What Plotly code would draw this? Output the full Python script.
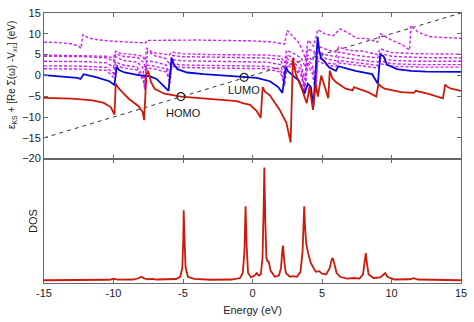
import plotly.graph_objects as go
from plotly.subplots import make_subplots

# ---- Data ----
diag_x = [-15, 15]
diag_y = [-15, 15]

red_x = [-15, -13, -11.5, -10.7, -10.2, -9.93, -9.84, -9.65, -9.4, -8.9, -8.2, -7.9, -7.80, -7.63, -7.51, -7.3, -7.04, -6.6, -6.33, -5.15, -3.48, -2.06, -1.12, -0.64, -0.17, 0.31, 0.59, 0.73, 0.9, 1.25, 1.96, 2.44, 2.74, 2.91, 3.1, 3.5, 3.9, 4.1, 4.35, 4.55, 4.7, 4.95, 5.45, 5.56, 5.75, 6.0, 6.7, 7.2, 7.3, 8.3, 8.9, 9.07, 9.25, 9.5, 10.7, 11.6, 11.75, 12.6, 13.7, 13.86, 14.05, 14.3, 15]
red_y = [-5.4, -5.6, -6.0, -6.6, -7.6, -9.4, -2.0, -3.0, -3.9, -5.6, -7.4, -8.8, -10.75, 0.2, 1.1, -1.6, -3.2, -4.0, -4.4, -5.1, -5.5, -5.9, -6.2, -6.7, -7.1, -8.6, -10.2, -2.8, -3.9, -4.8, -8.3, -11.4, -16.1, 4.2, 0.5, -2.8, -6.7, -2.8, -8.3, -2.0, -5.1, 0.0, -5.5, 1.1, -0.7, -1.6, -3.2, -3.6, -2.8, -4.0, -5.1, -2.0, -2.7, -3.2, -4.0, -4.2, -3.7, -4.4, -5.5, -2.2, -2.8, -3.2, -3.7]

blue_x = [-15, -13.2, -12.6, -12.37, -12.15, -11.2, -10.3, -9.93, -9.77, -9.6, -9.2, -8.2, -7.4, -6.9, -6.4, -6.04, -5.81, -5.65, -5.4, -4.7, -3.5, -2.06, -0.64, 0.3, 1.25, 1.85, 2.15, 2.39, 2.55, 2.8, 3.35, 3.74, 3.98, 4.2, 4.38, 4.69, 4.8, 4.93, 5.17, 5.52, 6.0, 6.18, 6.47, 7.4, 8.6, 9.02, 9.19, 9.43, 9.67, 10.4, 11.4, 12.5, 15]
blue_y = [0.07, -0.3, -0.6, -0.86, 0.3, -0.5, -1.4, -2.3, 2.1, 1.3, 0.7, 0.07, -0.2, -0.86, -2.4, -3.7, 4.2, 2.6, 1.5, 0.7, 0.3, 0.0, -0.3, -0.6, -1.4, -2.8, -4.2, 2.0, 1.0, 0.3, -1.3, -4.4, -2.0, -2.8, -7.5, 9.25, 6.0, 4.2, 3.4, 1.9, 1.1, 2.2, 1.9, 1.1, 0.3, -2.0, 5.0, 4.6, 2.6, 1.5, 1.1, 0.9, 0.85]

m1_x = [-15, -14, -13, -12.5, -12.35, -12.2, -11.8, -11, -10, -9, -8, -7.7, -7.6, -6, -4, -2, 0, 1.5, 2.3, 2.5, 2.9, 3.3, 3.6, 3.8, 4.0, 4.4, 4.7, 5.2, 5.8, 6.3, 7.0, 7.5, 8.2, 9.0, 9.2, 10.0, 10.8, 11.3, 11.4, 11.9, 12.8, 14, 15]
m1_y = [8.0, 7.9, 7.6, 7.0, 6.5, 9.8, 9.0, 8.5, 8.2, 8.1, 8.0, 7.8, 8.4, 8.5, 8.5, 8.4, 8.3, 8.0, 7.5, 10.8, 9.5, 8.0, 6.0, 4.0, 8.5, 7.0, 11.0, 10.0, 9.5, 11.2, 10.0, 8.9, 8.9, 8.0, 10.0, 8.5, 7.3, 6.1, 12.0, 10.4, 9.3, 9.0, 8.9]

m2_x = [-15, -12, -10.5, -10, -9.85, -9.5, -8.5, -7.9, -7.75, -7.6, -7.2, -6.5, -6.0, -5.8, -5, -3, -1, 1, 2, 2.3, 2.45, 2.9, 3.5, 3.8, 4.0, 4.4, 4.7, 5.5, 6.0, 6.2, 7, 8, 9.0, 9.2, 10, 12, 15]
m2_y = [4.9, 4.8, 4.6, 4.2, 5.8, 5.3, 5.0, 4.6, 3.6, 6.5, 5.5, 5.2, 4.9, 5.6, 5.2, 5.0, 5.0, 4.9, 4.6, 3.0, 6.0, 5.4, 4.2, 2.0, 6.5, 5.5, 7.0, 6.0, 5.6, 6.8, 6.0, 5.8, 5.0, 6.4, 5.5, 5.2, 5.1]

m3_x = [-15, -12, -10.5, -10.0, -9.85, -9.3, -8.2, -7.8, -7.7, -7.55, -7.0, -6.2, -5.95, -5.8, -5, -2, 1, 2.0, 2.3, 2.5, 3.0, 3.5, 3.75, 3.95, 4.3, 4.6, 5.2, 6.0, 6.2, 7.5, 9.0, 9.2, 10, 12, 15]
m3_y = [4.6, 4.5, 4.2, 3.4, 5.2, 4.6, 4.2, 3.0, 1.0, 5.8, 4.7, 4.0, 2.5, 4.8, 4.5, 4.4, 4.2, 3.8, 1.5, 5.0, 4.0, 2.5, -1.0, 5.0, 3.5, 6.0, 5.0, 4.5, 5.6, 4.8, 4.2, 5.3, 4.6, 4.3, 4.2]

m4_x = [-15, -12, -10.5, -10.0, -9.85, -9.3, -8.3, -7.9, -7.75, -7.6, -7.0, -6.2, -5.95, -5.8, -5, -2, 1, 2.0, 2.3, 2.5, 3.0, 3.5, 3.75, 3.95, 4.3, 4.55, 4.7, 5.3, 6.0, 6.2, 7.5, 9.0, 9.2, 10, 12, 15]
m4_y = [3.4, 3.3, 3.0, 2.0, 4.5, 3.6, 3.2, 2.0, -1.5, 3.5, 3.2, 2.5, 0.0, 3.8, 3.5, 3.4, 3.2, 2.6, 0.0, 4.0, 3.0, 1.5, -3.0, 4.0, 2.5, -1.0, 5.5, 4.0, 3.5, 4.5, 3.8, 3.2, 4.3, 3.6, 3.4, 3.4]

m5_x = [-15, -12, -10.5, -10.0, -9.85, -9.3, -8.3, -7.9, -7.75, -7.6, -7.0, -6.2, -5.95, -5.8, -5, -2, 1, 2.0, 2.3, 2.5, 3.0, 3.5, 3.75, 3.95, 4.3, 4.55, 4.7, 5.3, 6.0, 6.2, 7.5, 9.0, 9.2, 10, 12, 15]
m5_y = [2.3, 2.2, 1.9, 0.5, 3.2, 2.5, 2.0, 0.0, -3.5, 2.5, 2.2, 1.5, -2.0, 2.8, 2.5, 2.4, 2.2, 1.5, -1.5, 3.2, 2.2, 0.5, -4.0, 3.2, 1.5, -3.0, 4.5, 3.0, 2.7, 3.6, 3.0, 2.4, 3.5, 2.8, 2.6, 2.6]

m6_x = [-15, -12, -10.5, -10.0, -9.85, -9.3, -8.3, -7.9, -7.75, -7.6, -7.0, -6.2, -5.95, -5.8, -5, -2, 1, 2.0, 2.3, 2.5, 3.0, 3.5, 3.75, 3.95, 4.3, 4.55, 4.7, 5.3, 6.0, 6.2, 7.5, 9.0, 9.2, 10, 12, 15]
m6_y = [1.6, 1.5, 1.2, -0.5, 2.5, 1.8, 1.3, -1.0, -2.5, 1.8, 1.5, 0.8, -1.0, 2.2, 1.9, 1.8, 1.6, 0.8, -2.5, 2.5, 1.5, 0.0, -3.5, 2.5, 0.5, -4.0, 3.5, 2.5, 2.1, 3.0, 2.4, 1.8, 2.8, 2.2, 2.0, 2.0]

homo_x, homo_y = [-5.15], [-5.1]
lumo_x, lumo_y = [-0.6], [-0.45]

dos_x = [-15, -12, -10.3, -10.0, -9.7, -8.6, -8.2, -8.0, -7.8, -7.5, -7.2, -6.9, -6.0, -5.5, -5.2, -5.05, -4.98, -4.95, -4.9, -4.82, -4.65, -4.2, -3, -1.5, -0.9, -0.7, -0.58, -0.5, -0.42, -0.32, -0.1, 0.15, 0.3, 0.45, 0.6, 0.72, 0.8, 0.85, 0.92, 1.0, 1.1, 1.15, 1.3, 1.6, 1.9, 2.05, 2.15, 2.2, 2.28, 2.4, 2.7, 2.9, 3.2, 3.45, 3.6, 3.68, 3.72, 3.78, 3.86, 4.0, 4.2, 4.4, 4.55, 4.8, 5.0, 5.3, 5.55, 5.7, 5.78, 5.9, 6.05, 6.3, 6.8, 7.3, 7.7, 7.95, 8.08, 8.15, 8.22, 8.35, 8.7, 9.2, 9.45, 9.55, 9.7, 10.2, 11.3, 11.6, 11.9, 13, 15]
dos_y = [0.022, 0.023, 0.026, 0.034, 0.027, 0.028, 0.038, 0.05, 0.037, 0.03, 0.033, 0.028, 0.028, 0.032, 0.05, 0.12, 0.35, 0.584, 0.40, 0.13, 0.05, 0.033, 0.026, 0.028, 0.04, 0.08, 0.25, 0.617, 0.3, 0.08, 0.045, 0.06, 0.08, 0.06, 0.07, 0.2, 0.6, 0.928, 0.5, 0.2, 0.17, 0.18, 0.1, 0.05, 0.06, 0.12, 0.27, 0.30, 0.18, 0.08, 0.05, 0.055, 0.05, 0.09, 0.25, 0.55, 0.617, 0.45, 0.32, 0.24, 0.16, 0.12, 0.09, 0.095, 0.075, 0.07, 0.12, 0.19, 0.20, 0.15, 0.08, 0.05, 0.035, 0.04, 0.035, 0.07, 0.18, 0.24, 0.17, 0.07, 0.04, 0.045, 0.07, 0.08, 0.05, 0.028, 0.03, 0.039, 0.028, 0.024, 0.022]

x_ticks = [-15, -10, -5, 0, 5, 10, 15]
y_ticks = [-20, -15, -10, -5, 0, 5, 10, 15]

RED = "#cc1a0a"
BLUE = "#0a0ad8"
MAG = "#cc22ee"
FRAME = "#666666"
FONT = "Liberation Sans, Arial, sans-serif"

fig = make_subplots(rows=2, cols=1, shared_xaxes=False, vertical_spacing=0,
                    row_heights=[0.5393, 0.4607])

fig.add_trace(go.Scatter(x=diag_x, y=diag_y, mode="lines",
                         line=dict(color="#333333", width=1, dash="4px,4px")), row=1, col=1)
for mx, my in [(m1_x, m1_y), (m2_x, m2_y), (m3_x, m3_y), (m4_x, m4_y), (m5_x, m5_y), (m6_x, m6_y)]:
    fig.add_trace(go.Scatter(x=mx, y=my, mode="lines",
                             line=dict(color=MAG, width=1.4, dash="3px,2px")), row=1, col=1)
fig.add_trace(go.Scatter(x=blue_x, y=blue_y, mode="lines",
                         line=dict(color=BLUE, width=1.8)), row=1, col=1)
fig.add_trace(go.Scatter(x=red_x, y=red_y, mode="lines",
                         line=dict(color=RED, width=1.8)), row=1, col=1)
fig.add_trace(go.Scatter(x=homo_x + lumo_x, y=homo_y + lumo_y, mode="markers",
                         marker=dict(symbol="circle-open", size=8, color="#222222",
                                     line=dict(width=1.2))), row=1, col=1)
fig.add_trace(go.Scatter(x=dos_x, y=dos_y, mode="lines",
                         line=dict(color=RED, width=1.8)), row=2, col=1)

axis_common = dict(showline=True, mirror="ticks", linecolor=FRAME, linewidth=1,
                   ticks="inside", ticklen=4, tickcolor=FRAME, showgrid=False, zeroline=False,
                   tickfont=dict(family=FONT, size=11, color="#222222"))

fig.update_xaxes(range=[-15, 15], tickvals=x_ticks, **axis_common)
fig.update_xaxes(showticklabels=False, row=1, col=1)
fig.update_xaxes(ticktext=[str(v) for v in x_ticks],
                 title=dict(text="Energy (eV)", font=dict(family=FONT, size=11, color="#222222"), standoff=8),
                 row=2, col=1)
fig.update_yaxes(range=[-20, 15], tickvals=y_ticks, **axis_common, row=1, col=1)
fig.update_yaxes(range=[0, 1.0], tickvals=[], showticklabels=False,
                 **{k: v for k, v in axis_common.items() if k not in ("ticks",)}, ticks="", row=2, col=1)

fig.add_annotation(text="HOMO", x=-5.0, y=-9.0, xref="x", yref="y", showarrow=False,
                   font=dict(family=FONT, size=11, color="#222222"))
fig.add_annotation(text="LUMO", x=-0.64, y=-3.6, xref="x", yref="y", showarrow=False,
                   font=dict(family=FONT, size=11, color="#222222"))
fig.add_annotation(text="ε<sub>KS</sub> + [Re Σ(ω) -V<sub>xc</sub>] (eV)", textangle=-90,
                   x=-0.077, y=0.7697, xref="paper", yref="paper", xanchor="center", yanchor="middle",
                   showarrow=False, font=dict(family=FONT, size=10, color="#222222"))
fig.add_annotation(text="DOS", textangle=-90,
                   x=-0.026, y=0.2304, xref="paper", yref="paper", xanchor="center", yanchor="middle",
                   showarrow=False, font=dict(family=FONT, size=11, color="#222222"))

fig.update_layout(width=474, height=322, margin=dict(l=44, r=9, t=7, b=35),
                  paper_bgcolor="white", plot_bgcolor="white", showlegend=False,
                  font=dict(family=FONT))

fig.write_html("out.html")
